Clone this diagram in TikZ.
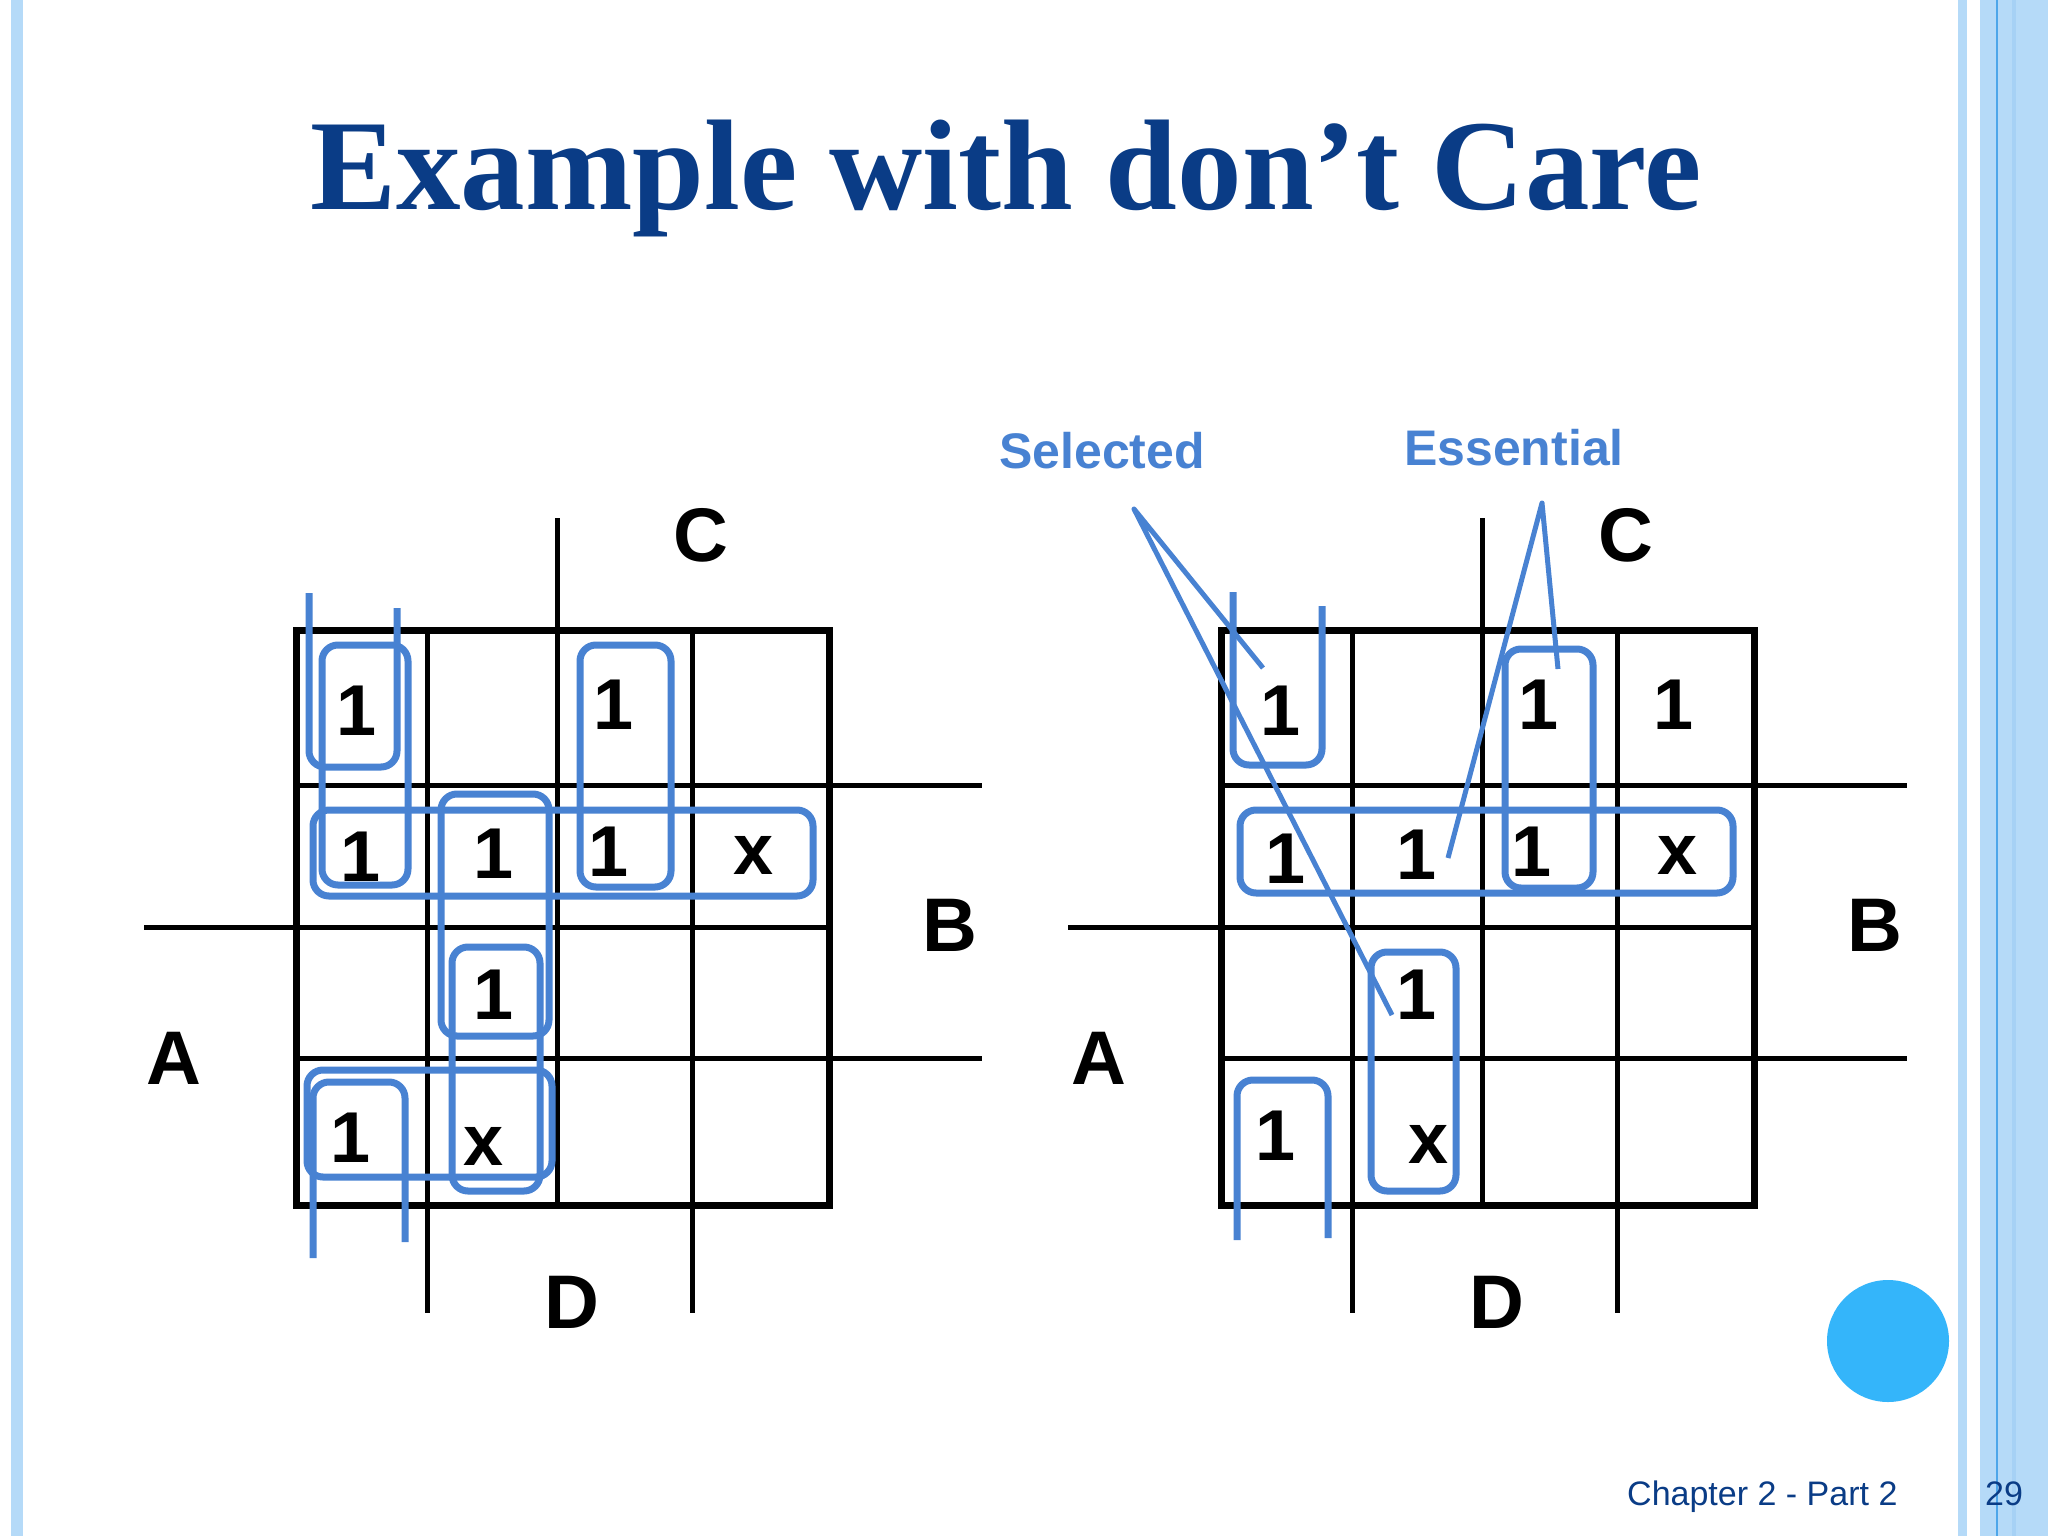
\documentclass[tikz,border=0pt]{standalone}
\usepackage{fontspec}
\setmainfont{Liberation Sans}
\newfontfamily\titlefont{Liberation Serif}
\definecolor{loopblue}{RGB}{72,130,210}
\definecolor{titleblue}{RGB}{10,60,134}
\definecolor{barblue}{RGB}{181,218,248}
\definecolor{bardark}{RGB}{166,209,245}
\definecolor{barline}{RGB}{77,166,234}
\definecolor{dotblue}{RGB}{52,181,250}
\tikzstyle{cell}=[font=\bfseries\fontsize{72}{72}\selectfont, inner sep=0pt]
\tikzstyle{var}=[font=\bfseries\fontsize{76}{76}\selectfont, inner sep=0pt]
\tikzstyle{grp}=[draw=loopblue, line width=7pt, rounded corners=16pt]
\tikzstyle{lead}=[draw=loopblue, line width=5pt, line join=round]
\tikzstyle{note}=[text=loopblue, font=\bfseries\fontsize{50}{50}\selectfont, inner sep=0pt]
\tikzstyle{frame}=[line width=7pt]
\tikzstyle{rule}=[line width=5pt]

\begin{document}
\begin{tikzpicture}[x=1pt, y=-1pt]
				\fill[white] (0,0) rectangle (2048,1536);
				\useasboundingbox (0,0) rectangle (2048,1536);
				\fill[barblue] (11,0) rectangle (23,1536);
				\fill[barblue] (1958,0) rectangle (1967,1536);
				\fill[barblue] (1980,0) rectangle (2048,1536);
				\fill[bardark] (2012,0) rectangle (2016,1536);
				\draw[barline, line width=1.5pt] (1997,0) -- (1997,1536);
				\node[anchor=base, text=titleblue, font=\titlefont\bfseries\fontsize{129}{129}\selectfont] (title) at (1006,209) {Example with don’t Care};
				\draw[frame] (296,630) rectangle (829,1205);
				\draw[rule] (427,630) -- (427,1313);
				\draw[rule] (557,518) -- (557,1205);
				\draw[rule] (692,630) -- (692,1313);
				\draw[rule] (296,785) -- (982,785);
				\draw[rule] (144,927) -- (829,927);
				\draw[rule] (296,1058) -- (982,1058);
				\node[var] (lC) at (701,535) {C};
				\node[var] (lB) at (950,925) {B};
				\node[var] (lA) at (174,1058) {A};
				\node[var] (lD) at (572,1302) {D};
				\node[cell] (l11) at (357,711) {1};
				\node[cell] (l13) at (614,705) {1};
				\node[cell] (l21) at (361,857) {1};
				\node[cell] (l22) at (494,854) {1};
				\node[cell] (l23) at (609,852) {1};
				\node[cell] (l24) at (754,855) {x};
				\node[cell] (l32) at (494,995) {1};
				\node[cell] (l41) at (351,1138) {1};
				\node[cell] (l42) at (484,1146) {x};
				\draw[grp] (309,593) -- (309,767) -- (397,767) -- (397,608);
				\draw[grp] (322,645) rectangle (408,885);
				\draw[grp] (313,810) rectangle (813,896);
				\draw[grp] (580,645) rectangle (671,887);
				\draw[grp] (441,794) rectangle (549,1036);
				\draw[grp] (452,947) rectangle (540,1191);
				\draw[grp] (307,1070) rectangle (552,1177);
				\draw[grp] (313,1258) -- (313,1082) -- (405,1082) -- (405,1242);
				\draw[frame] (1221,630) rectangle (1754,1205);
				\draw[rule] (1352,630) -- (1352,1313);
				\draw[rule] (1482,518) -- (1482,1205);
				\draw[rule] (1617,630) -- (1617,1313);
				\draw[rule] (1221,785) -- (1907,785);
				\draw[rule] (1068,927) -- (1754,927);
				\draw[rule] (1221,1058) -- (1907,1058);
				\node[var] (rC) at (1626,535) {C};
				\node[var] (rB) at (1875,925) {B};
				\node[var] (rA) at (1099,1058) {A};
				\node[var] (rD) at (1497,1302) {D};
				\node[cell] (r11) at (1281,711) {1};
				\node[cell] (r13) at (1539,705) {1};
				\node[cell] (r14) at (1674,705) {1};
				\node[cell] (r21) at (1286,859) {1};
				\node[cell] (r22) at (1417,855) {1};
				\node[cell] (r23) at (1532,852) {1};
				\node[cell] (r24) at (1678,855) {x};
				\node[cell] (r32) at (1417,995) {1};
				\node[cell] (r41) at (1276,1136) {1};
				\node[cell] (r42) at (1429,1144) {x};
				\draw[grp] (1233,592) -- (1233,765) -- (1322,765) -- (1322,606);
				\draw[grp] (1240,810) rectangle (1733,893);
				\draw[grp] (1505,649) rectangle (1593,888);
				\draw[grp] (1371,952) rectangle (1456,1191);
				\draw[grp] (1237,1240) -- (1237,1080) -- (1328,1080) -- (1328,1238);
				\node[note] (sel) at (1102,451) {Selected};
				\node[note] (ess) at (1514,448) {Essential};
				\coordinate (selTip) at (1134,509);
				\coordinate (selEndA) at (1263,668);
				\coordinate (selEndB) at (1392,1015);
				\coordinate (essTip) at (1542,503);
				\coordinate (essEndA) at (1558,669);
				\coordinate (essEndB) at (1448,858);
				\draw[lead] (selEndA) -- (selTip) -- (selEndB);
				\draw[lead] (essEndA) -- (essTip) -- (essEndB);
				\fill[dotblue] (1888,1341) circle (61);
				\node[anchor=base west, inner sep=0pt, text=titleblue, font=\fontsize{34}{34}\selectfont] (foot) at (1627,1505) {Chapter 2 - Part 2};
				\node[anchor=base west, inner sep=0pt, text=titleblue, font=\fontsize{34}{34}\selectfont] (page) at (1985,1505) {29};
			\end{tikzpicture}
\end{document}
